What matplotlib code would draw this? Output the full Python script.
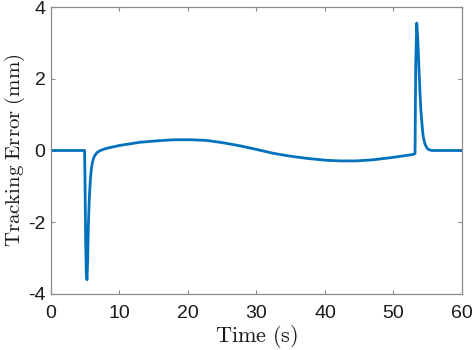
#!/usr/bin/env python3
"""Tracking error over time, MATLAB-style figure."""

import matplotlib

matplotlib.use("Agg")
import matplotlib.pyplot as plt


# values (time in s, error in mm)
time_s = [
    0.0, 4.9, 4.95, 5.05, 5.15, 5.25, 5.35, 5.45, 5.6, 5.75, 5.9, 6.05, 6.2,
    6.4, 6.7, 7.2, 8.1, 10.0, 13.0, 15.5, 18.0, 20.5, 22.7, 25.0, 27.6, 30.0,
    32.5, 35.0, 37.4, 40.0, 42.2, 44.5, 47.0, 50.0, 52.9, 53.15, 53.25, 53.4,
    53.55, 53.7, 53.85, 54.0, 54.2, 54.35, 54.6, 54.85, 55.1, 55.6, 60.0,
]
error_mm = [
    0.0, 0.0, -0.6, -2.4, -3.4, -3.6, -3.1, -2.1, -1.3, -0.8, -0.5, -0.33, -0.22,
    -0.14, -0.06, 0.0, 0.06, 0.14, 0.23, 0.27, 0.30, 0.30, 0.28, 0.22, 0.13, 0.03,
    -0.08, -0.16, -0.22, -0.27, -0.29, -0.29, -0.26, -0.19, -0.11, -0.08, 2.4, 3.55,
    3.1, 2.4, 1.7, 1.13, 0.65, 0.38, 0.18, 0.08, 0.03, 0.0, 0.0,
]

x_ticks = [0, 10, 20, 30, 40, 50, 60]
y_ticks = [-4, -2, 0, 2, 4]

LINE_COLOR = "#0072BD"
AXIS_COLOR = "#8a8a8a"

plt.rcParams["mathtext.fontset"] = "cm"
plt.rcParams["font.family"] = ["Liberation Sans", "DejaVu Sans"]

fig = plt.figure(figsize=(4.74, 3.5), dpi=100)
ax = fig.add_axes([0.1076, 0.16, 0.867, 0.82])

ax.plot(time_s, error_mm, color=LINE_COLOR, linewidth=2.0)

ax.set_xlim(0, 60)
ax.set_ylim(-4, 4)
ax.set_xticks(x_ticks)
ax.set_yticks(y_ticks)
ax.set_xticklabels([str(v) for v in x_ticks])
ax.set_yticklabels([str(v) for v in y_ticks])

ax.tick_params(direction="in", length=3, width=0.8, color=AXIS_COLOR,
               labelsize=14, labelcolor="#1a1a1a",
               top=True, right=True)
ax.tick_params(axis="x", pad=8)
ax.tick_params(axis="y", pad=4)
for spine in ax.spines.values():
    spine.set_color(AXIS_COLOR)
    spine.set_linewidth(0.9)

ax.set_xlabel(r"$\mathrm{Time\ (s)}$", fontsize=16, color="#1a1a1a", labelpad=0.5)
ax.set_ylabel(r"$\mathrm{Tracking\ Error\ (mm)}$", fontsize=15, color="#1a1a1a",
              labelpad=1)

fig.savefig("out.png", dpi=100)
